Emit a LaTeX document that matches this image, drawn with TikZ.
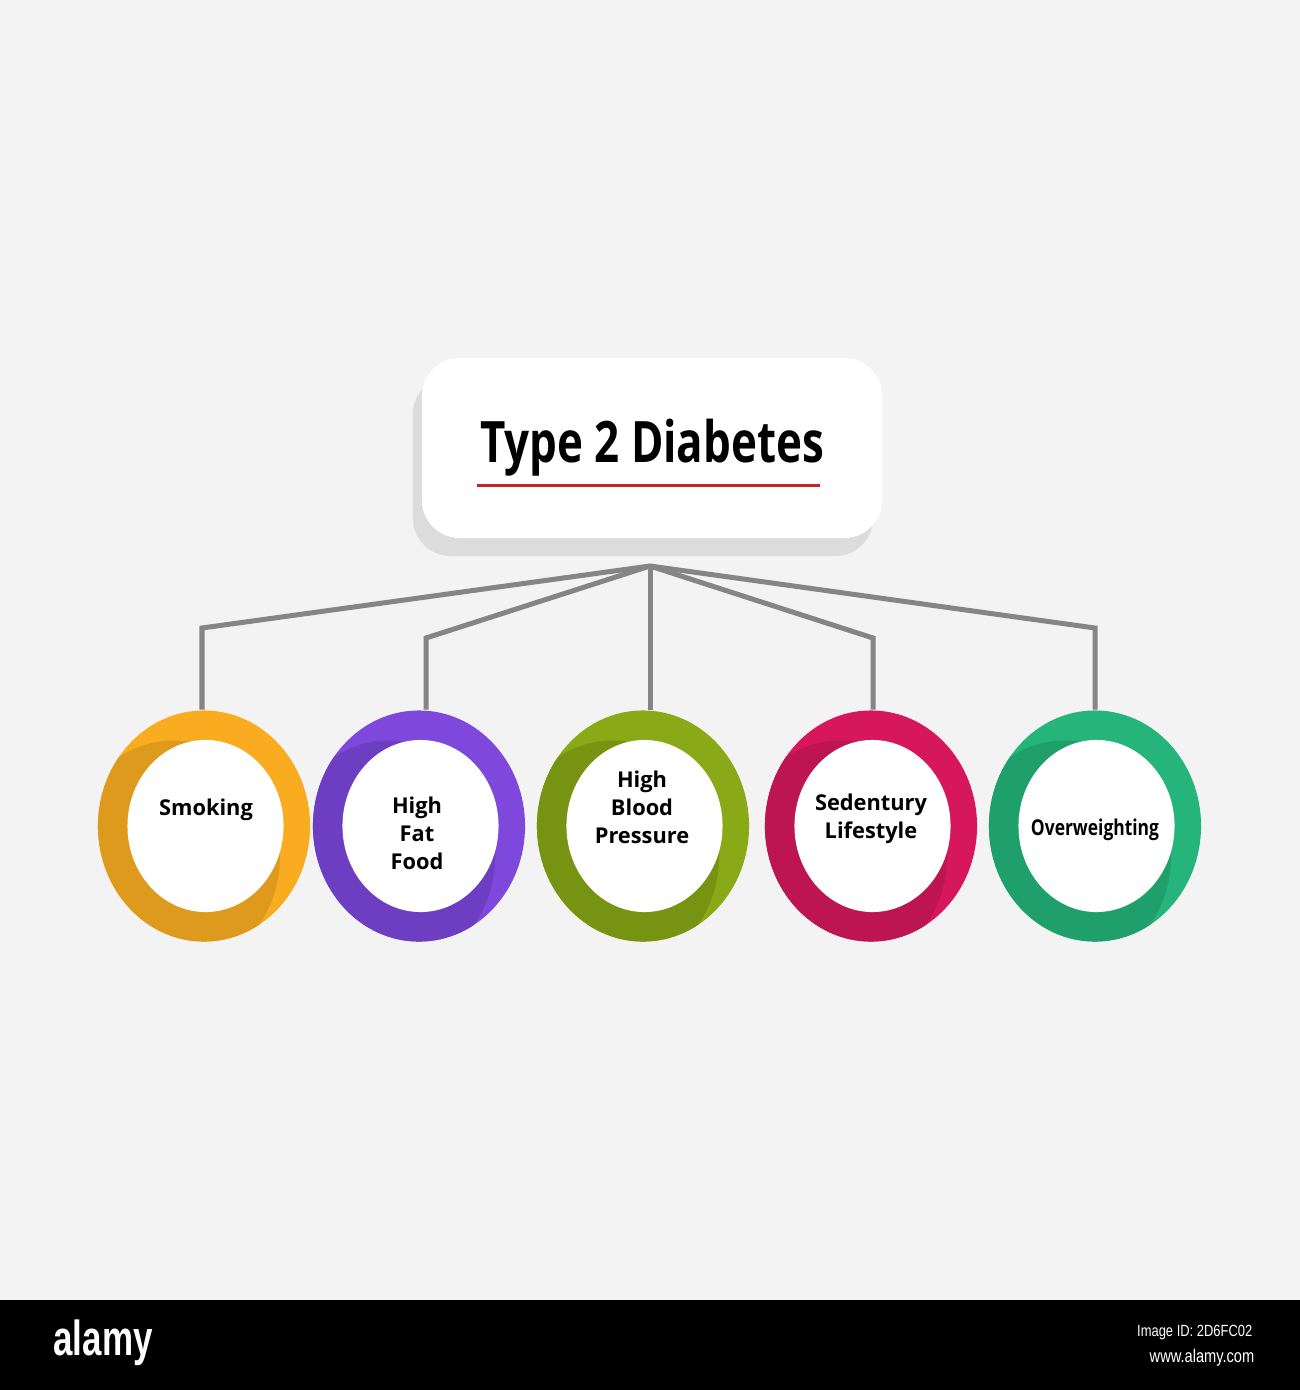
\documentclass[tikz,border=0pt]{standalone}
\usepackage{fontspec}
\setmainfont{Open Sans}
\newfontfamily\bandfont{Liberation Sans}
\usetikzlibrary{shapes.geometric,shadows,positioning}

\definecolor{bggrey}{HTML}{F3F3F3}
\definecolor{shadowgrey}{HTML}{DCDCDC}
\definecolor{linkgrey}{HTML}{858585}
\definecolor{ulred}{HTML}{C0272D}
\definecolor{orangeL}{HTML}{FAAC20}
\definecolor{orangeD}{HTML}{DE9A1C}
\definecolor{purpleL}{HTML}{7F48DC}
\definecolor{purpleD}{HTML}{6D3DC2}
\definecolor{oliveL}{HTML}{8AA917}
\definecolor{oliveD}{HTML}{779312}
\definecolor{pinkL}{HTML}{D6175B}
\definecolor{pinkD}{HTML}{BC1550}
\definecolor{greenL}{HTML}{25B57A}
\definecolor{greenD}{HTML}{1F9F6A}

\tikzset{
  ring/.style 2 args={ellipse, fill=#1, minimum width=2.12cm, minimum height=2.31cm, inner sep=0pt,
    path picture={
      \fill[#2] ([xshift=-0.3cm,yshift=-0.3cm]path picture bounding box.center) ellipse (1.06cm and 1.155cm);
      \fill[white] ([xshift=0.015cm]path picture bounding box.center) ellipse (0.78cm and 0.86cm);}},
  lbl/.style={font=\bfseries\fontsize{6.2}{8}\selectfont, align=center, inner sep=0pt},
  link/.style={draw=linkgrey, line width=0.05cm},
  headbox/.style={fill=white, rounded corners=0.38cm, minimum width=4.6cm, minimum height=1.8cm,
    general shadow={fill=shadowgrey, shadow xshift=-0.09cm, shadow yshift=-0.18cm}},
}

\begin{document}
\begin{tikzpicture}[x=0.01cm, y=-0.01cm]
  \useasboundingbox (0,0) rectangle (1300,1390);
  \fill[bggrey] (0,0) rectangle (1300,1300);
  \fill[black] (0,1300) rectangle (1300,1390);

  % title
  \node[headbox, font=\bfseries\fontsize{13}{15}\selectfont] (ttl) at (652,448) {\scalebox{0.96}[1.25]{Type 2 Diabetes}};
  \draw[ulred, line width=0.03cm] ([xshift=-1.75cm,yshift=-0.37cm]ttl.center) -- ([xshift=1.68cm,yshift=-0.37cm]ttl.center);

  % causes
  \node[ring={orangeL}{orangeD}] (smoking) at (204,826) {};
  \node[ring={purpleL}{purpleD}] (fatfood) at (419,826) {};
  \node[ring={oliveL}{oliveD}] (bloodp) at (643,826) {};
  \node[ring={pinkL}{pinkD}] (sedent) at (871,826) {};
  \node[ring={greenL}{greenD}] (overw) at (1095,826) {};

  \node[lbl] (smoking-t) at (206,810) {Smoking};
  \node[lbl] (fatfood-t) at (417,833) {High\\Fat\\Food};
  \node[lbl] (bloodp-t) at (642,807) {High\\Blood\\Pressure};
  \node[lbl] (sedent-t) at (871,819) {Sedentury\\Lifestyle};
  \node[lbl] (overw-t) at (1095,830) {\scalebox{0.8}[1]{Overweighting}};

  % connectors
  \coordinate (hub) at (650,566);
  \coordinate (k1) at (202,628);
  \coordinate (k2) at (426,638);
  \coordinate (k4) at (873,638);
  \coordinate (k5) at (1095,628);
  \draw[link] (hub) -- (k1) -- (k1 |- smoking.north);
  \draw[link] (hub) -- (k2) -- (k2 |- fatfood.north);
  \draw[link] (hub) -- (hub |- bloodp.north);
  \draw[link] (hub) -- (k4) -- (k4 |- sedent.north);
  \draw[link] (hub) -- (k5) -- (k5 |- overw.north);

  % footer band
  \node[white, inner sep=0pt, font=\bandfont\bfseries\fontsize{14}{14}\selectfont] (logo) at (103,1343) {\scalebox{0.71}[1]{alamy}};
  \node[white, inner sep=0pt, font=\bandfont\fontsize{4.6}{5}\selectfont, anchor=east] (imgid) at (1253,1333) {\scalebox{0.8}[1]{Image ID: 2D6FC02}};
  \node[white, inner sep=0pt, font=\bandfont\fontsize{5.2}{6}\selectfont, anchor=east] (site) at (1255,1358) {\scalebox{0.8}[1]{www.alamy.com}};
\end{tikzpicture}
\end{document}
